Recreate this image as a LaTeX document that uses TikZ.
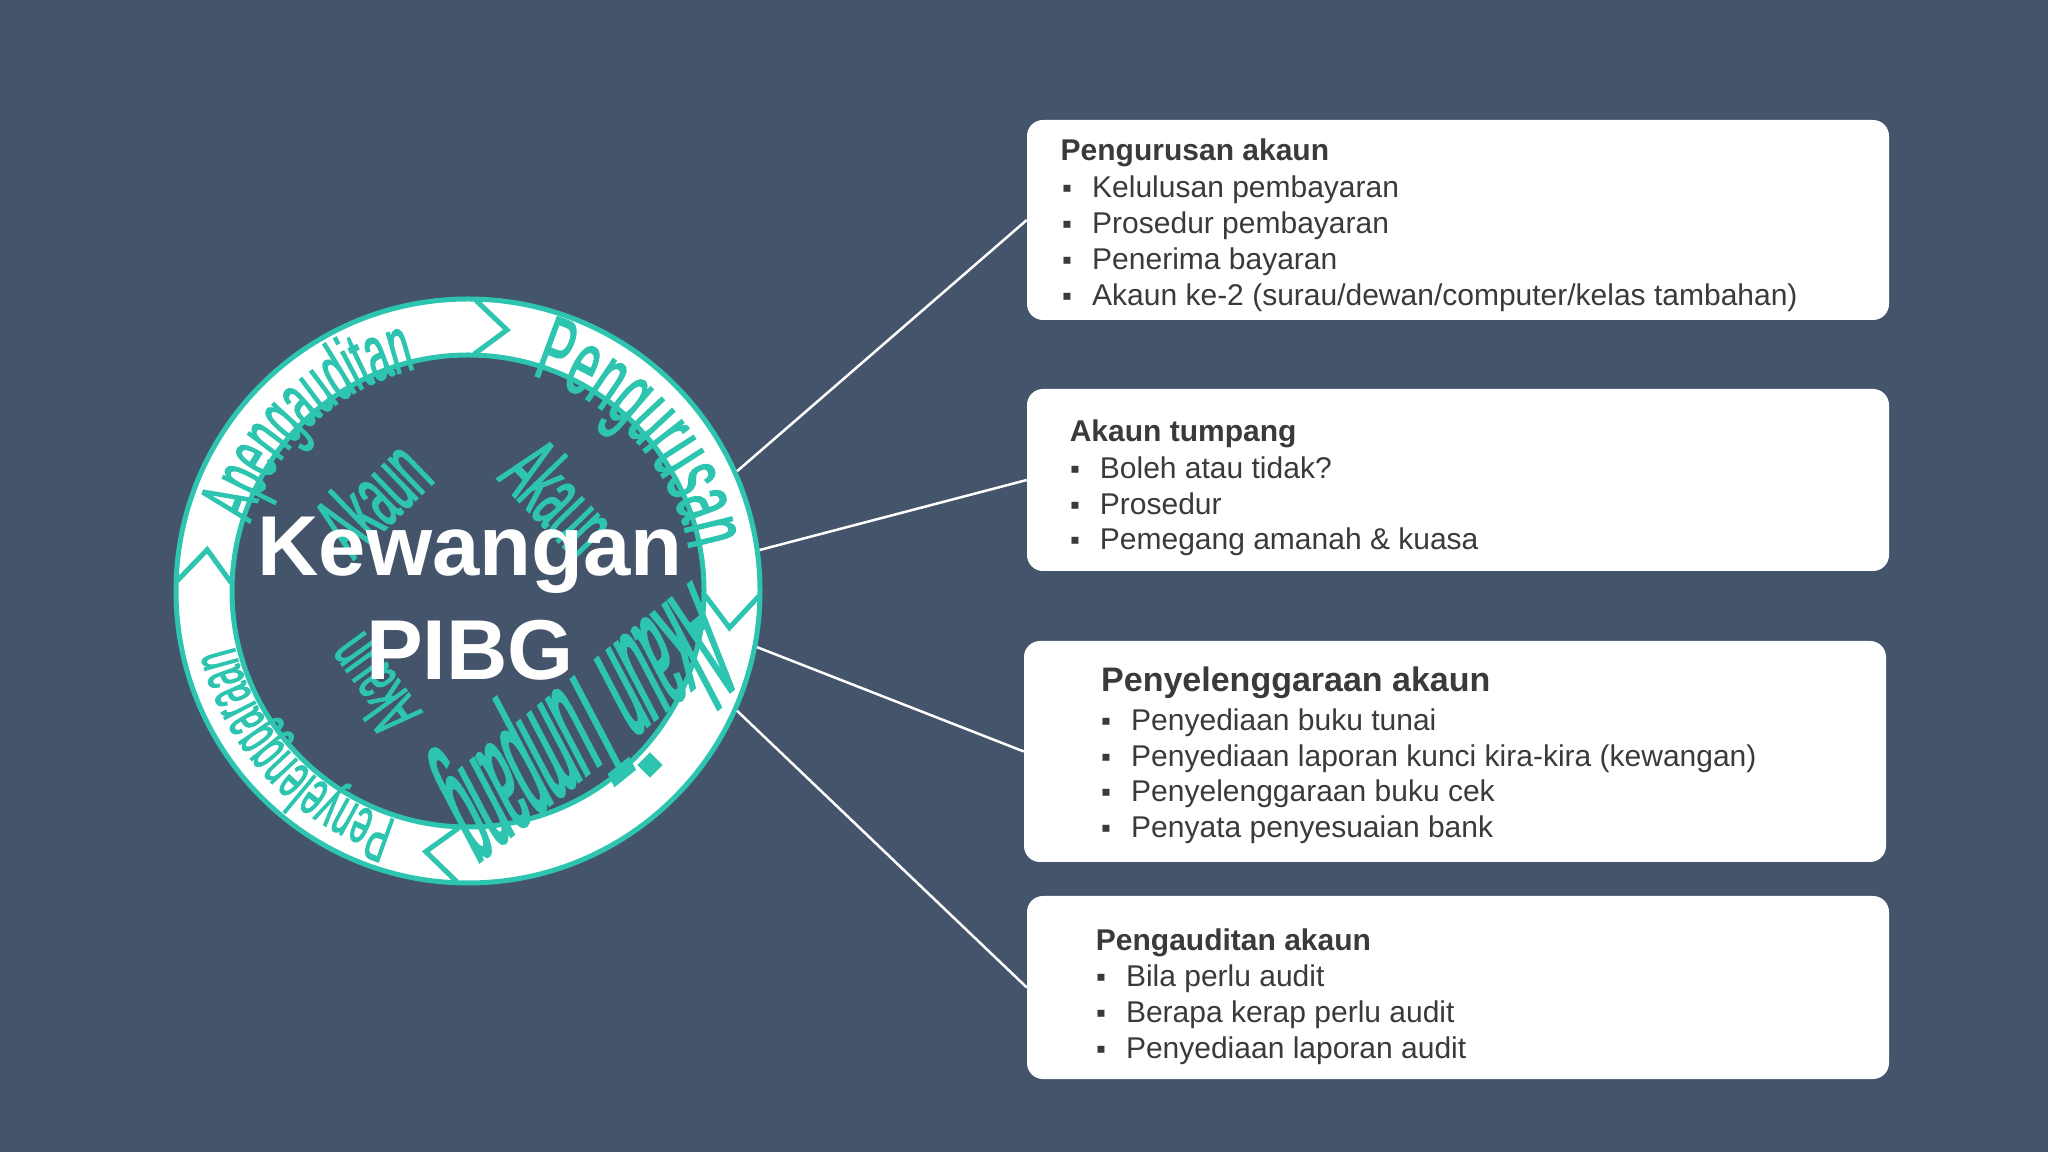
\documentclass[tikz,border=0pt]{standalone}
\usepackage{fontspec}
\setmainfont{Liberation Sans}
\newfontfamily\ringfontA[FakeStretch=0.5,FakeBold=1.5]{Liberation Sans}
\newfontfamily\ringfontB[FakeStretch=0.48,FakeBold=1.5]{Liberation Sans}
\newfontfamily\akfontA[FakeStretch=0.44,FakeBold=1.5]{Liberation Sans}
\newfontfamily\akfontB[FakeStretch=0.5,FakeBold=1.5]{Liberation Sans}
\newfontfamily\akfontC[FakeStretch=0.28,FakeBold=1.5]{Liberation Sans}
\usetikzlibrary{decorations.text,calc}
\definecolor{bg}{HTML}{44546A}
\definecolor{ringteal}{HTML}{2DC5AF}
\definecolor{boxtext}{HTML}{3A3A3A}
\begin{document}
\begin{tikzpicture}[x=1pt,y=1pt,
  conn/.style={draw=white, line width=2.5pt},
  card/.style={fill=white, rounded corners=16pt, minimum width=862pt, inner sep=0pt},
  ttl/.style={anchor=base west, inner sep=0pt, text=boxtext, font=\bfseries\fontsize{30}{36}\selectfont},
  itm/.style={anchor=base west, inner sep=0pt, text=boxtext, font=\fontsize{30}{36}\selectfont},
  blt/.style={anchor=base west, inner sep=0pt, text=boxtext, font=\fontsize{28}{32}\selectfont},
  chev/.style={draw=ringteal, line width=5pt, line join=miter},
  tealtxt/.style={text=ringteal, inner sep=0pt}
  ]
\useasboundingbox (0,0) rectangle (2048,1152);
\fill[bg] (0,0) rectangle (2048,1152);

% cards
\node[card, minimum height=200pt] (b1) at (1458,932) {};
\node[card, minimum height=182pt] (b2) at (1458,672) {};
\node[card, minimum height=221pt] (b3) at (1455,400.5) {};
\node[card, minimum height=183pt] (b4) at (1458,164.5) {};

% ring
\node[circle, fill=white, draw=ringteal, line width=5pt, minimum size=584pt, inner sep=0pt] (hub) at (468,561) {};
\node[circle, fill=bg, draw=ringteal, line width=5pt, minimum size=472pt, inner sep=0pt] (core) at (468,561) {};

% connectors
\draw[conn] (hub.24.7) -- (b1.west);
\draw[conn] (hub.8) -- (b2.west);
\draw[conn] (hub.-11.4) -- (b3.west);
\draw[conn] (hub.-24) -- (b4.west);

% chevrons
\foreach \a in {88.5,-1,267.8,178}{
  \draw[chev] ($(hub.center)+(\a:291pt)$) -- ($(hub.center)+({\a-7}:264pt)$) -- ($(hub.center)+(\a:237pt)$);
}

% ring texts
\path[decorate, decoration={text along path, text align=center,
  text={|\color{ringteal}\ringfontA\fontsize{92}{100}\selectfont|Pengurusan}}]
  ($(hub.center)+(87:225pt)$) arc[start angle=87, end angle=-3, radius=225pt];
\path[decorate, decoration={text along path, text align=center,
  text={|\color{ringteal}\ringfontB\fontsize{80}{90}\selectfont|Apengauditan}}]
  ($(hub.center)+(178:228pt)$) arc[start angle=178, end angle=88, radius=228pt];
\path[decorate, decoration={text along path, text align=center,
  text={|\color{ringteal}\ringfontB\fontsize{66}{76}\selectfont|Penyelenggaraan}}]
  ($(hub.center)+(268:240pt)$) arc[start angle=268, end angle=178, radius=240pt];

% inner teal words
\begin{scope}[shift={(372,655)}]
  \node[tealtxt, rotate=44, font=\akfontA\fontsize{92}{100}\selectfont] (akTL) at (0,0) {Akaun};
\end{scope}
\begin{scope}[shift={(560,655)}]
  \node[tealtxt, rotate=-46, font=\akfontA\fontsize{92}{100}\selectfont] (akTR) at (0,0) {Akaun};
\end{scope}
\begin{scope}[shift={(372,466)}]
  \node[tealtxt, rotate=126, font=\akfontB\fontsize{72}{80}\selectfont] (akBL) at (0,0) {Akaun};
\end{scope}
\begin{scope}[shift={(584,430)}]
  \node[tealtxt, rotate=219, xslant=0.2, font=\akfontC\fontsize{160}{180}\selectfont] (akBR) at (0,0) {Akaun Tumpang};
\end{scope}
\node[fill=ringteal, minimum size=18pt, inner sep=0pt, rotate=45] (dot) at (650,387) {};

% centre title
\node[anchor=base, inner sep=0pt, text=white, font=\bfseries\fontsize{85}{100}\selectfont] (kw) at (470,576) {Kewangan};
\node[anchor=base, inner sep=0pt, text=white, font=\bfseries\fontsize{85}{100}\selectfont] (pibg) at (470,472) {PIBG};

% card 1
\node[ttl] (t1) at (1060.5,991) {Pengurusan akaun};
\node[blt] (k11) at (1062,954) {▪};
\node[itm] (i11) at (1092,954) {Kelulusan pembayaran};
\node[blt] (k12) at (1062,918.3) {▪};
\node[itm] (i12) at (1092,918.3) {Prosedur pembayaran};
\node[blt] (k13) at (1062,882.6) {▪};
\node[itm] (i13) at (1092,882.6) {Penerima bayaran};
\node[blt] (k14) at (1062,846.9) {▪};
\node[itm] (i14) at (1092,846.9) {Akaun ke-2 (surau/dewan/computer/kelas tambahan)};

% card 2
\node[ttl] (t2) at (1069.6,710) {Akaun tumpang};
\node[blt] (k21) at (1070,673.4) {▪};
\node[itm] (i21) at (1099.7,673.4) {Boleh atau tidak?};
\node[blt] (k22) at (1070,637.7) {▪};
\node[itm] (i22) at (1099.7,637.7) {Prosedur};
\node[blt] (k23) at (1070,602) {▪};
\node[itm] (i23) at (1099.7,602) {Pemegang amanah \& kuasa};

% card 3
\node[ttl, font=\bfseries\fontsize{34}{40}\selectfont] (t3) at (1101,460) {Penyelenggaraan akaun};
\node[blt] (k31) at (1101,421.4) {▪};
\node[itm] (i31) at (1131,421.4) {Penyediaan buku tunai};
\node[blt] (k32) at (1101,385.7) {▪};
\node[itm] (i32) at (1131,385.7) {Penyediaan laporan kunci kira-kira (kewangan)};
\node[blt] (k33) at (1101,350) {▪};
\node[itm] (i33) at (1131,350) {Penyelenggaraan buku cek};
\node[blt] (k34) at (1101,314.3) {▪};
\node[itm] (i34) at (1131,314.3) {Penyata penyesuaian bank};

% card 4
\node[ttl] (t4) at (1095.7,202) {Pengauditan akaun};
\node[blt] (k41) at (1096,165.4) {▪};
\node[itm] (i41) at (1125.8,165.4) {Bila perlu audit};
\node[blt] (k42) at (1096,129.7) {▪};
\node[itm] (i42) at (1125.8,129.7) {Berapa kerap perlu audit};
\node[blt] (k43) at (1096,94) {▪};
\node[itm] (i43) at (1125.8,94) {Penyediaan laporan audit};
\end{tikzpicture}
\end{document}
